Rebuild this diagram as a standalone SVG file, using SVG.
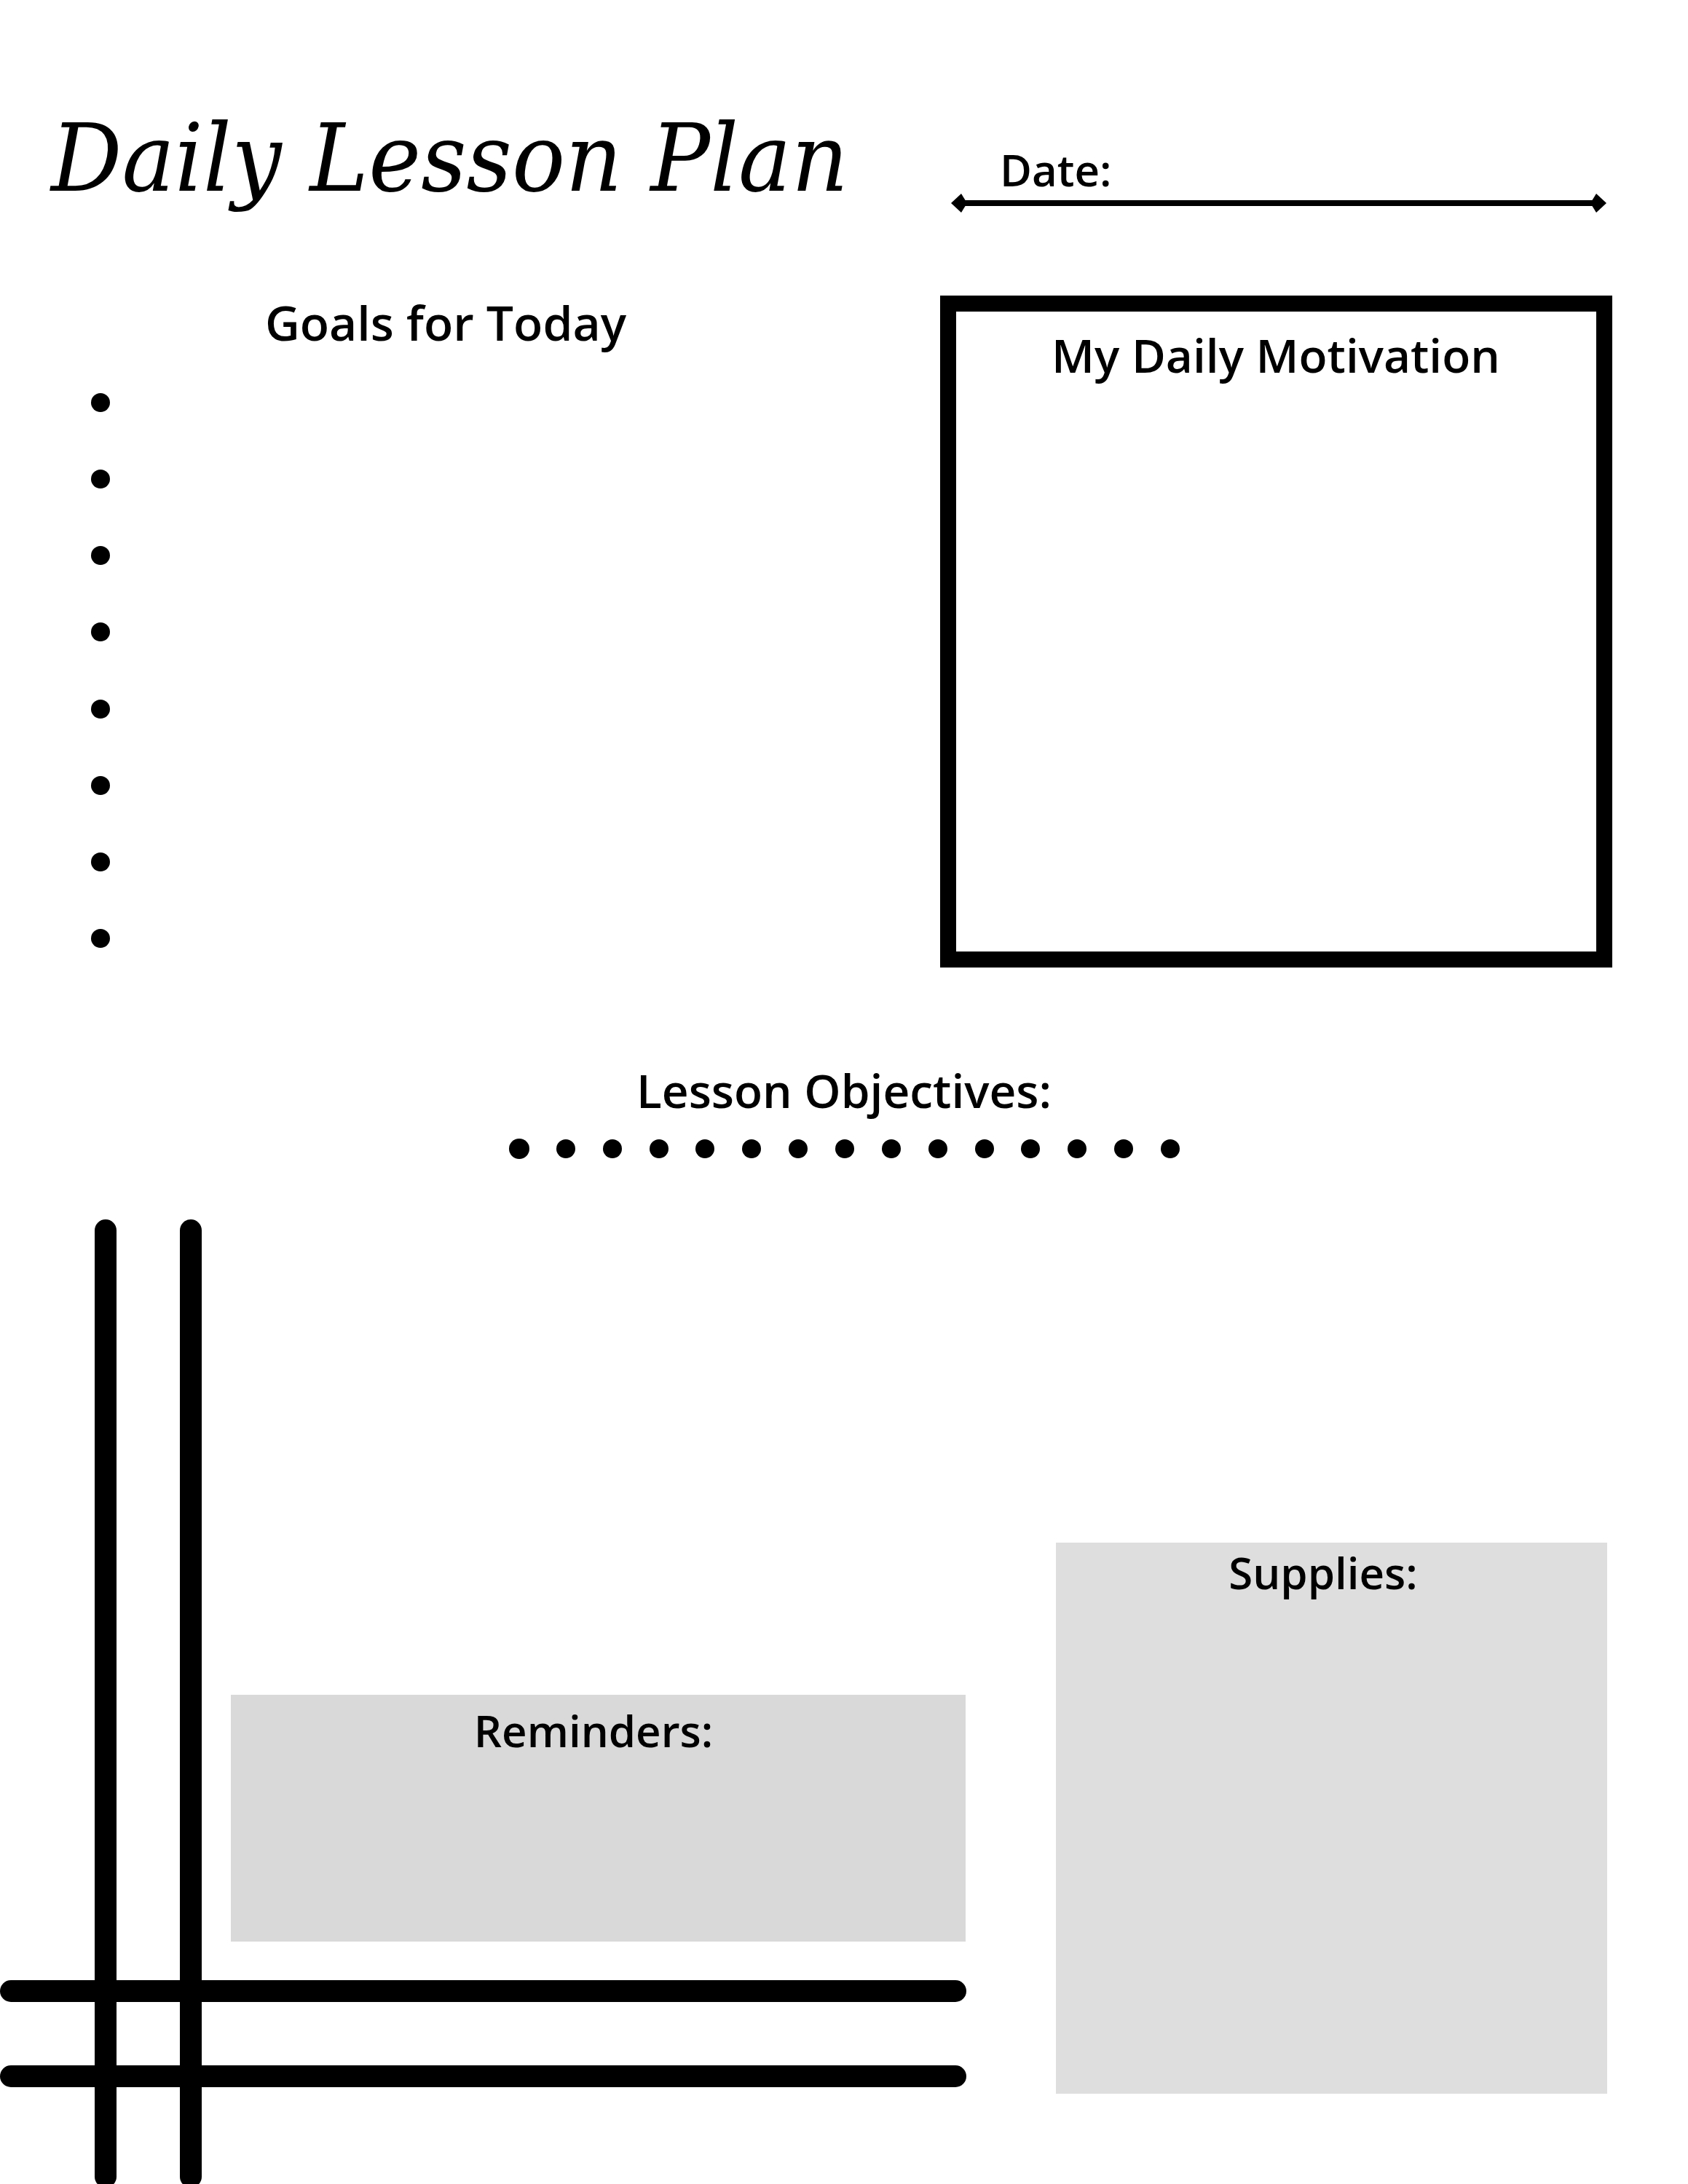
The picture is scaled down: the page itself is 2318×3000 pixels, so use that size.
<svg xmlns="http://www.w3.org/2000/svg" width="2318" height="3000" viewBox="0 0 2318 3000">
<style>
.lbl{font-family:"Open Sans","Liberation Sans",sans-serif;font-weight:600;fill:#000;text-anchor:middle}
.bar{stroke:#000;stroke-width:30;stroke-linecap:round}
</style>
<rect width="2318" height="3000" fill="#fff"/>
<g id="title"><text x="70" y="262" font-family="DejaVu Serif,serif" font-style="italic" font-size="130" textLength="1095" lengthAdjust="spacingAndGlyphs" fill="#000">Daily Lesson Plan</text></g>
<g id="date"><text x="1373" y="256" font-family="Open Sans,sans-serif" font-weight="600" font-size="60">Date:</text>
<line x1="1318" y1="279" x2="2194" y2="279" stroke="#000" stroke-width="8"/>
<polygon points="1306,279 1320,266 1328,279 1320,292" fill="#000"/>
<polygon points="2206,279 2192,266 2184,279 2192,292" fill="#000"/></g>
<g id="goals"><text class="lbl" x="612" y="468" font-size="66">Goals for Today</text>
<g fill="#000"><circle cx="138" cy="553" r="13"/><circle cx="138" cy="658" r="13"/><circle cx="138" cy="763" r="13"/><circle cx="138" cy="868" r="13"/><circle cx="138" cy="974" r="13"/><circle cx="138" cy="1079" r="13"/><circle cx="138" cy="1184" r="13"/><circle cx="138" cy="1289" r="13"/></g></g>
<g id="motivation"><rect x="1302" y="417" width="901" height="901" fill="none" stroke="#000" stroke-width="22"/>
<text class="lbl" x="1752" y="512" font-size="64">My Daily Motivation</text></g>
<g id="objectives"><text class="lbl" x="1159" y="1522" font-size="64">Lesson Objectives:</text>
<g fill="#000"><circle cx="713" cy="1578" r="14"/><circle cx="777" cy="1578" r="13"/><circle cx="841" cy="1578" r="13"/><circle cx="905" cy="1578" r="13"/><circle cx="968" cy="1578" r="13"/><circle cx="1032" cy="1578" r="13"/><circle cx="1096" cy="1578" r="13"/><circle cx="1160" cy="1578" r="13"/><circle cx="1224" cy="1578" r="13"/><circle cx="1288" cy="1578" r="13"/><circle cx="1352" cy="1578" r="13"/><circle cx="1415" cy="1578" r="13"/><circle cx="1479" cy="1578" r="13"/><circle cx="1543" cy="1578" r="13"/><circle cx="1607" cy="1578" r="13"/></g></g>
<g id="bars"><line class="bar" x1="145" y1="1690" x2="145" y2="2990"/><line class="bar" x1="262" y1="1690" x2="262" y2="2990"/>
<line class="bar" x1="15" y1="2735" x2="1312" y2="2735"/><line class="bar" x1="15" y1="2852" x2="1312" y2="2852"/></g>
<g id="reminders"><rect x="317" y="2328" width="1009" height="339" fill="#d9d9d9"/>
<text class="lbl" x="815" y="2400" font-size="60">Reminders:</text></g>
<g id="supplies"><rect x="1450" y="2119" width="757" height="757" fill="#dedede"/>
<text class="lbl" x="1817" y="2183" font-size="60">Supplies:</text></g>
</svg>
